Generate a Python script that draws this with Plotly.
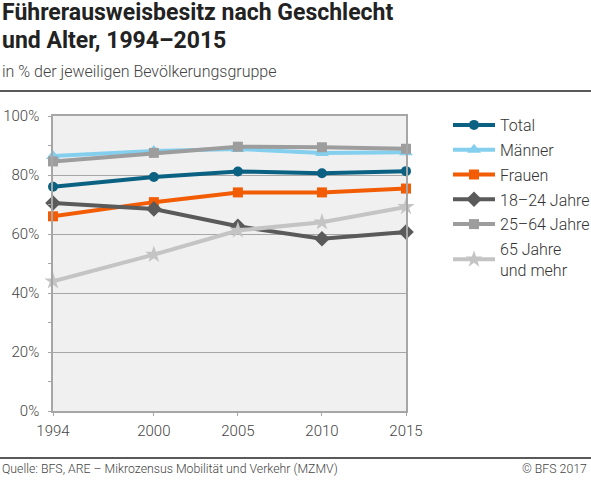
import plotly.graph_objects as go

years = [1994, 2000, 2005, 2010, 2015]
total = [76.0, 79.3, 81.2, 80.6, 81.3]
maenner = [86.4, 88.1, 88.8, 87.5, 87.7]
frauen = [66.0, 70.8, 74.1, 74.1, 75.4]
jahre_18_24 = [70.5, 68.5, 62.6, 58.4, 60.7]
jahre_25_64 = [84.6, 87.5, 89.6, 89.4, 88.9]
jahre_65 = [44.0, 53.0, 61.2, 64.0, 69.2]

names = ["Total", "Männer", "Frauen", "18–24 Jahre", "25–64 Jahre", "65 Jahre<br>und mehr"]
colors = ["#0b6182", "#84cfee", "#f25c05", "#5a5a5a", "#9d9d9d", "#c4c4c4"]
symbols = ["circle", "triangle-up", "square", "diamond", "square", "star"]
sizes = [10, 12, 10, 12, 10, 13]
series = [total, maenner, frauen, jahre_18_24, jahre_25_64, jahre_65]

W, H = 591, 486
L, R, T, B = 53, 406, 116, 411  # plot area in pixels


def px(x):
    return (x - L) / (R - L)


def py(y):
    return (B - y) / (B - T)


fig = go.Figure()
for i, (name, vals) in enumerate(zip(names, series)):
    fig.add_trace(
        go.Scatter(
            x=years,
            y=vals,
            name=name,
            legendgroup=str(i),
            mode="lines+markers",
            line=dict(color=colors[i], width=4),
            marker=dict(symbol=symbols[i], size=sizes[i], color=colors[i]),
            cliponaxis=False,
        )
    )

font = "Roboto, sans-serif"
light = dict(family=font, size=15, color="#444", weight=300)
fig.update_layout(
    width=W,
    height=H,
    margin=dict(l=L, r=W - R, t=T, b=H - B, autoexpand=False),
    paper_bgcolor="white",
    plot_bgcolor="#f0f0f0",
    font=light,
    showlegend=True,
    legend=dict(
        x=px(448),
        y=py(108),
        xanchor="left",
        yanchor="top",
        tracegroupgap=1,
        itemwidth=42,
        font=dict(family=font, size=16, color="#333", weight=300),
        bgcolor="rgba(0,0,0,0)",
    ),
    xaxis=dict(
        range=[1994, 2015],
        tickvals=years,
        ticks="outside",
        ticklen=3,
        tickcolor="#a6a6a6",
        ticklabelstandoff=2,
        showline=True,
        linecolor="#a6a6a6",
        linewidth=1.5,
        mirror=True,
        showgrid=False,
        zeroline=False,
        tickfont=light,
    ),
    yaxis=dict(
        range=[0, 100],
        dtick=20,
        ticksuffix="%",
        ticks="outside",
        ticklen=3,
        tickcolor="#a6a6a6",
        ticklabelstandoff=6,
        minor=dict(dtick=10, ticks="outside", ticklen=3, tickcolor="#a6a6a6", showgrid=False),
        showline=True,
        linecolor="#a6a6a6",
        linewidth=1.5,
        mirror=True,
        showgrid=True,
        gridcolor="#a6a6a6",
        gridwidth=1,
        zeroline=False,
        tickfont=light,
    ),
)

# titles and source
texts = [
    ("Führerausweisbesitz nach Geschlecht", 0, 13, 23, "#222", "left", 700),
    ("und Alter, 1994–2015", 0, 40, 23, "#222", "left", 700),
    ("in % der jeweiligen Bevölkerungsgruppe", 0, 72, 16, "#444", "left", 300),
    ("Quelle: BFS, ARE – Mikrozensus Mobilität und Verkehr (MZMV)", 0, 469, 12.3, "#444", "left", 300),
    ("© BFS 2017", 589, 469, 12.3, "#444", "right", 300),
]
for txt, x, y, size, col, anchor, weight in texts:
    fig.add_annotation(
        text=txt,
        xref="paper",
        yref="paper",
        x=px(x),
        y=py(y),
        xanchor=anchor,
        yanchor="middle",
        showarrow=False,
        font=dict(family=font, size=size, color=col, weight=weight),
    )

for y in [91, 458]:
    fig.add_shape(
        type="line",
        xref="paper",
        yref="paper",
        x0=px(0),
        x1=px(W),
        y0=py(y),
        y1=py(y),
        line=dict(color="#222", width=1.5),
    )

# drop the default page margin so the chart sits at the window's corner
fig.write_html(
    "out.html",
    config={"displayModeBar": False},
    post_script="document.body.style.margin='0';",
)
